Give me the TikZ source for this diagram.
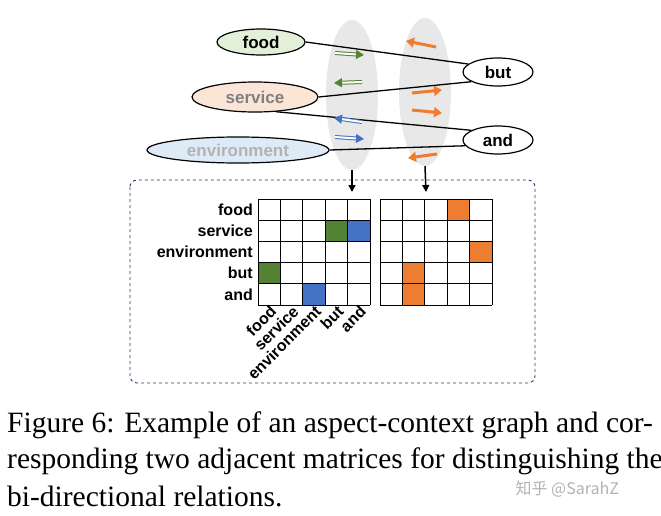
\documentclass[tikz,border=0pt]{standalone}
\usepackage{fontspec}
\setmainfont{Liberation Serif}
\setsansfont{Liberation Sans}
\newfontfamily\cjk{Noto Sans CJK SC}
\usetikzlibrary{shapes.geometric,arrows.meta}
\definecolor{mgreen}{HTML}{548235}
\definecolor{mblue}{HTML}{4472C4}
\definecolor{morange}{HTML}{ED7D31}
\definecolor{fgreen}{HTML}{E2F0D9}
\definecolor{fpink}{HTML}{FBE5D6}
\definecolor{fblue}{HTML}{DEEBF7}
\begin{document}
\begin{tikzpicture}[x=1pt,y=-1pt,
  word/.style={ellipse,draw,line width=1.2pt,inner sep=0pt,font=\sffamily\bfseries\fontsize{17}{17}\selectfont},
  halo/.style={ellipse,fill=gray!18,draw=none,inner sep=0pt},
  link/.style={line width=1.3pt},
  dbl/.style={double,double distance=2pt,line width=1pt,-{Triangle[length=8pt,width=9pt]}},
  orr/.style={morange,line width=3pt,-{Triangle[length=8pt,width=10pt]}},
  lab/.style={font=\sffamily\bfseries\fontsize{16}{16}\selectfont,inner sep=1pt},
  captext/.style={font=\fontsize{29.5}{30}\selectfont,anchor=west,inner sep=0pt}]
\useasboundingbox (0,0) rectangle (661,516);
\node[halo,minimum width=52,minimum height=150] (h1) at (352,95) {};
\node[halo,minimum width=52,minimum height=148] (h2) at (425,92) {};
\node[word,fill=fgreen,minimum width=88,minimum height=26] (food) at (261,42) {food};
\node[word,fill=fpink,minimum width=126,minimum height=30,text=gray] (service) at (255,97) {service};
\node[word,fill=fblue,minimum width=182,minimum height=26,text=gray!60] (env) at (238,150) {environment};
\node[word,fill=white,minimum width=70,minimum height=28] (but) at (498,72) {but};
\node[word,fill=white,minimum width=70,minimum height=28] (and) at (498,140) {and};
\draw[link] (food.east) -- (but.165);
\draw[link] (service.east) -- (but.200);
\draw[link] (service.-35) -- (and.160);
\draw[link] (env.east) -- (and.190);
% arrows
\coordinate (g1a) at (335,53); \coordinate (g1b) at (364,55);
\coordinate (g2a) at (362,82); \coordinate (g2b) at (334,83);
\coordinate (b1a) at (362,122); \coordinate (b1b) at (334,118);
\coordinate (b2a) at (335,137); \coordinate (b2b) at (364,139);
\draw[dbl,draw=mgreen,double=white,fill=mgreen] (g1a) -- (g1b);
\draw[dbl,draw=mgreen,double=white,fill=mgreen] (g2a) -- (g2b);
\draw[dbl,draw=mblue,double=white,fill=mblue] (b1a) -- (b1b);
\draw[dbl,draw=mblue,double=white,fill=mblue] (b2a) -- (b2b);
\coordinate (o1a) at (436,47); \coordinate (o1b) at (406,41);
\coordinate (o2a) at (412,93); \coordinate (o2b) at (442,90);
\coordinate (o3a) at (412,110); \coordinate (o3b) at (442,113);
\coordinate (o4a) at (437,154); \coordinate (o4b) at (408,158);
\draw[orr] (o1a) -- (o1b);
\draw[orr] (o2a) -- (o2b);
\draw[orr] (o3a) -- (o3b);
\draw[orr] (o4a) -- (o4b);
\coordinate (d1) at (352,192); \coordinate (d2) at (426,192);
\draw[line width=1.5pt,-{Triangle[length=7pt,width=7pt]}] (h1.south) -- (d1);
\draw[line width=1.5pt,-{Triangle[length=7pt,width=7pt]}] (h2.south) -- (d2);
% dashed box
\draw[dashed,line width=0.9pt,draw=black!55!blue!60!gray,rounded corners=7pt] (130,180) rectangle (535,383);
% matrices
\def\cw{22.4}\def\ch{21.2}
\foreach \c/\r/\col in {4/2/mgreen,5/2/mblue,1/4/mgreen,3/5/mblue}
  \fill[\col] (258+\cw*\c-\cw,199+\ch*\r-\ch) rectangle ++(\cw,\ch);
\foreach \c/\r in {4/1,5/3,2/4,2/5}
  \fill[morange] (380+\cw*\c-\cw,199+\ch*\r-\ch) rectangle ++(\cw,\ch);
\foreach \x in {258,380}{
  \foreach \i in {0,...,5}{
    \draw[line width=1pt] (\x+\cw*\i,199) -- (\x+\cw*\i,305);
    \draw[line width=1pt] (\x,199+\ch*\i) -- (\x+112,199+\ch*\i);}}
\foreach \t [count=\i] in {food,service,environment,but,and}{
  \node[lab,anchor=east] (r\i) at (254,199+\ch*\i-\ch/2) {\t};
  \node[lab,anchor=east,rotate=45] (c\i) at (258+\cw*\i-\cw/2+5,308) {\t};}
% caption
\node[captext] (l1) at (7,425) {Figure 6: Example of an aspect-context graph and cor-};
\node[captext] (l2) at (7,461) {responding two adjacent matrices for distinguishing the};
\node[captext] (l3) at (7,496) {bi-directional relations.};
\node[font=\cjk\fontsize{16}{16}\selectfont,text=gray!60,anchor=west] (wm) at (512,489) {知乎 @SarahZ};
\end{tikzpicture}
\end{document}
